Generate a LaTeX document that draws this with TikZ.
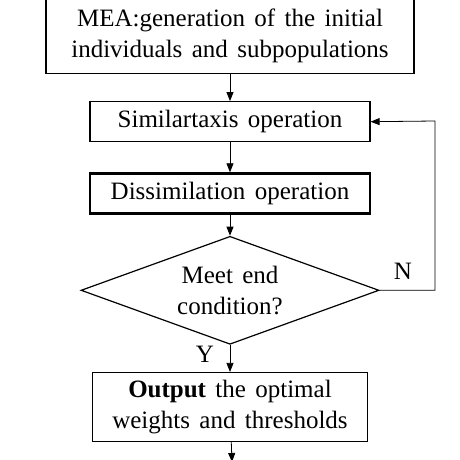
\documentclass[tikz,border=0pt]{standalone}
\usepackage{fontspec}
\setmainfont[WordSpace={1.5,1,1}]{Liberation Serif}
\usetikzlibrary{positioning, arrows.meta, shapes.geometric}
\tikzset{
  stepbox/.style={
    draw,
    rectangle,
    line width=1.2pt,
    align=center,
    inner sep=2pt,
    font=\fontsize{25}{31}\selectfont
  },
  decision/.style={
    draw,
    diamond,
    line width=1.2pt,
    aspect=2.76,
    minimum width=298pt,
    minimum height=108pt,
    inner sep=0pt,
    align=center,
    font=\fontsize{25}{31}\selectfont
  },
  flow/.style={
    draw,
    line width=0.8pt,
    -{Triangle[length=9pt,width=7pt]}
  },
  tag/.style={
    font=\fontsize{25}{31}\selectfont
  }
}

\begin{document}
\begin{tikzpicture}
        \useasboundingbox (0,0) rectangle (460pt,-460pt);
        \node[stepbox, minimum width=368pt, minimum height=75pt] (init) at (230pt,-36pt)
          {MEA:generation of the initial\\individuals and subpopulations};
        \node[stepbox, minimum width=280pt, minimum height=40pt, below=27pt of init] (simil)
          {Similartaxis operation};
        \node[stepbox, line width=2.4pt, minimum width=280pt, minimum height=40pt, below=30pt of simil] (dissim)
          {Dissimilation operation};
        \node[decision, below=21pt of dissim] (cond) {Meet end\\condition?};
        \node[stepbox, minimum width=275pt, minimum height=69pt, below=27pt of cond] (out)
          {\textbf{Output} the optimal\\weights and thresholds};
        \coordinate (loop) at (435pt,-121pt);
        \coordinate (exit) at (232pt,-462pt);

        \draw[flow] (init) -- (simil);
        \draw[flow] (simil) -- (dissim);
        \draw[flow] (dissim) -- (cond);
        \draw[flow] (cond) -- (out);
        \draw[flow] (out) -- (exit);
        \draw[flow] (cond.east) -| (loop) -- (simil.east);

        \node[tag] (no) at (403pt,-271pt) {N};
        \node[tag] (yes) at (205pt,-354pt) {Y};
      \end{tikzpicture}
\end{document}
